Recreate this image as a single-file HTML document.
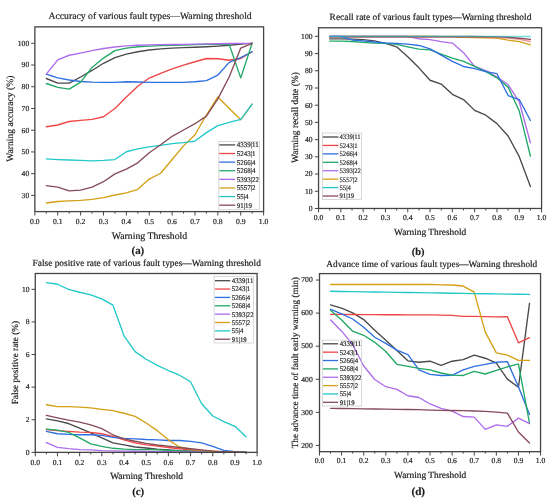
<!DOCTYPE html>
<html><head><meta charset="utf-8"><style>
html,body{margin:0;padding:0;background:#fff;}
svg{display:block;}
text{font-family:"Liberation Serif",serif;fill:#1a1a1a;stroke:#1a1a1a;stroke-width:0.18px;text-rendering:geometricPrecision;}
text.lg{stroke-width:0.16px;}
</style></head><body>
<svg width="550" height="501" viewBox="0 0 550 501">
<defs><filter id="bl" x="0" y="0" width="100%" height="100%"><feGaussianBlur stdDeviation="0.35"/></filter></defs>
<rect width="550" height="501" fill="#fff"/>
<g filter="url(#bl)">
<text x="48.5" y="19.2" font-size="9.71">Accuracy of various fault types—Warning threshold</text>
<clipPath id="clipa"><rect x="34.87" y="26.87" width="228.73" height="184.73"/></clipPath>
<g clip-path="url(#clipa)" fill="none" stroke-width="1.35" stroke-linejoin="round" stroke-linecap="round">
<polyline stroke="#4a4a4a" points="46.31,78.5 57.74,83.06 69.18,83.06 80.62,76.98 92.05,70.46 103.49,63.29 114.93,57.64 126.36,54.16 137.8,51.77 149.24,50.04 160.67,48.95 172.11,48.08 183.54,47.65 194.98,47.21 206.42,46.78 217.85,46.12 229.29,45.26 240.73,44.17 252.16,43.3"/>
<polyline stroke="#f04545" points="46.31,126.74 57.74,125 69.18,121.52 80.62,120.44 92.05,119.35 103.49,116.74 114.93,108.49 126.36,96.97 137.8,86.32 149.24,78.07 160.67,73.29 172.11,68.94 183.54,65.03 194.98,61.77 206.42,58.51 217.85,58.73 229.29,60.25 240.73,58.51 252.16,51.77"/>
<polyline stroke="#2f6fe0" points="46.31,74.15 57.74,77.85 69.18,80.02 80.62,81.54 92.05,82.19 103.49,82.41 114.93,82.41 126.36,81.76 137.8,81.98 149.24,82.41 160.67,82.41 172.11,82.41 183.54,82.41 194.98,81.76 206.42,80.67 217.85,75.02 229.29,62.42 240.73,57.64 252.16,51.77"/>
<polyline stroke="#22a865" points="46.31,83.5 57.74,87.41 69.18,89.15 80.62,82.19 92.05,67.42 103.49,58.08 114.93,50.69 126.36,48.08 137.8,46.78 149.24,46.12 160.67,45.69 172.11,45.26 183.54,45.04 194.98,44.6 206.42,44.39 217.85,44.39 229.29,44.6 240.73,77.85 252.16,43.3"/>
<polyline stroke="#ae6cec" points="46.31,74.15 57.74,59.81 69.18,55.25 80.62,53.08 92.05,50.69 103.49,48.51 114.93,46.99 126.36,45.91 137.8,45.26 149.24,44.82 160.67,44.6 172.11,44.5 183.54,44.39 194.98,44.17 206.42,43.95 217.85,43.73 229.29,43.52 240.73,43.3 252.16,43.3"/>
<polyline stroke="#d4a017" points="46.31,203.01 57.74,201.48 69.18,200.83 80.62,200.4 92.05,199.31 103.49,197.57 114.93,194.97 126.36,192.79 137.8,189.32 149.24,179.1 160.67,173.24 172.11,159.55 183.54,145.86 194.98,134.78 206.42,115 217.85,96.97 229.29,108.49 240.73,119.78 252.16,104.14"/>
<polyline stroke="#22c8c8" points="46.31,158.9 57.74,159.55 69.18,159.98 80.62,160.42 92.05,160.85 103.49,160.42 114.93,159.55 126.36,151.73 137.8,148.9 149.24,146.95 160.67,145.42 172.11,143.69 183.54,142.6 194.98,141.08 206.42,132.6 217.85,125.65 229.29,122.39 240.73,119.35 252.16,104.14"/>
<polyline stroke="#874b58" points="46.31,185.62 57.74,187.14 69.18,190.84 80.62,190.19 92.05,187.14 103.49,181.71 114.93,173.89 126.36,169.11 137.8,162.81 149.24,152.81 160.67,144.77 172.11,136.3 183.54,130 194.98,123.7 206.42,116.09 217.85,98.93 229.29,76.76 240.73,48.08 252.16,43.3"/>
</g>
<rect x="218.8" y="141.4" width="40.6" height="67.9" fill="none" stroke="#c8c8c8" stroke-width="0.7"/>
<line x1="219.3" y1="144.9" x2="235.2" y2="144.9" stroke="#4a4a4a" stroke-width="1.3"/>
<text transform="translate(236.8,147.3) scale(0.97,1)" font-size="7.11" class="lg">4339|11</text>
<line x1="219.3" y1="153.51" x2="235.2" y2="153.51" stroke="#f04545" stroke-width="1.3"/>
<text transform="translate(236.8,155.91) scale(0.97,1)" font-size="7.11" class="lg">5243|1</text>
<line x1="219.3" y1="162.12" x2="235.2" y2="162.12" stroke="#2f6fe0" stroke-width="1.3"/>
<text transform="translate(236.8,164.52) scale(0.97,1)" font-size="7.11" class="lg">5266|4</text>
<line x1="219.3" y1="170.73" x2="235.2" y2="170.73" stroke="#22a865" stroke-width="1.3"/>
<text transform="translate(236.8,173.13) scale(0.97,1)" font-size="7.11" class="lg">5268|4</text>
<line x1="219.3" y1="179.34" x2="235.2" y2="179.34" stroke="#ae6cec" stroke-width="1.3"/>
<text transform="translate(236.8,181.74) scale(0.97,1)" font-size="7.11" class="lg">5393|22</text>
<line x1="219.3" y1="187.95" x2="235.2" y2="187.95" stroke="#d4a017" stroke-width="1.3"/>
<text transform="translate(236.8,190.35) scale(0.97,1)" font-size="7.11" class="lg">5557|2</text>
<line x1="219.3" y1="196.56" x2="235.2" y2="196.56" stroke="#22c8c8" stroke-width="1.3"/>
<text transform="translate(236.8,198.96) scale(0.97,1)" font-size="7.11" class="lg">55|4</text>
<line x1="219.3" y1="205.17" x2="235.2" y2="205.17" stroke="#874b58" stroke-width="1.3"/>
<text transform="translate(236.8,207.57) scale(0.97,1)" font-size="7.11" class="lg">91|19</text>
<rect x="34.87" y="26.87" width="228.73" height="184.73" fill="none" stroke="#444444" stroke-width="1.3"/>
<line x1="31.17" y1="195.4" x2="34.87" y2="195.4" stroke="#444444" stroke-width="1"/>
<text x="29.2" y="197.7" font-size="7.6" text-anchor="end">30</text>
<line x1="31.17" y1="173.67" x2="34.87" y2="173.67" stroke="#444444" stroke-width="1"/>
<text x="29.2" y="175.97" font-size="7.6" text-anchor="end">40</text>
<line x1="31.17" y1="151.94" x2="34.87" y2="151.94" stroke="#444444" stroke-width="1"/>
<text x="29.2" y="154.24" font-size="7.6" text-anchor="end">50</text>
<line x1="31.17" y1="130.21" x2="34.87" y2="130.21" stroke="#444444" stroke-width="1"/>
<text x="29.2" y="132.51" font-size="7.6" text-anchor="end">60</text>
<line x1="31.17" y1="108.49" x2="34.87" y2="108.49" stroke="#444444" stroke-width="1"/>
<text x="29.2" y="110.79" font-size="7.6" text-anchor="end">70</text>
<line x1="31.17" y1="86.76" x2="34.87" y2="86.76" stroke="#444444" stroke-width="1"/>
<text x="29.2" y="89.06" font-size="7.6" text-anchor="end">80</text>
<line x1="31.17" y1="65.03" x2="34.87" y2="65.03" stroke="#444444" stroke-width="1"/>
<text x="29.2" y="67.33" font-size="7.6" text-anchor="end">90</text>
<line x1="31.17" y1="43.3" x2="34.87" y2="43.3" stroke="#444444" stroke-width="1"/>
<text x="29.2" y="45.6" font-size="7.6" text-anchor="end">100</text>
<line x1="34.87" y1="211.6" x2="34.87" y2="215.5" stroke="#444444" stroke-width="1"/>
<text x="34.87" y="224" font-size="7.6" text-anchor="middle">0.0</text>
<line x1="46.31" y1="211.6" x2="46.31" y2="213.6" stroke="#444444" stroke-width="1"/>
<line x1="57.74" y1="211.6" x2="57.74" y2="215.5" stroke="#444444" stroke-width="1"/>
<text x="57.74" y="224" font-size="7.6" text-anchor="middle">0.1</text>
<line x1="69.18" y1="211.6" x2="69.18" y2="213.6" stroke="#444444" stroke-width="1"/>
<line x1="80.62" y1="211.6" x2="80.62" y2="215.5" stroke="#444444" stroke-width="1"/>
<text x="80.62" y="224" font-size="7.6" text-anchor="middle">0.2</text>
<line x1="92.05" y1="211.6" x2="92.05" y2="213.6" stroke="#444444" stroke-width="1"/>
<line x1="103.49" y1="211.6" x2="103.49" y2="215.5" stroke="#444444" stroke-width="1"/>
<text x="103.49" y="224" font-size="7.6" text-anchor="middle">0.3</text>
<line x1="114.93" y1="211.6" x2="114.93" y2="213.6" stroke="#444444" stroke-width="1"/>
<line x1="126.36" y1="211.6" x2="126.36" y2="215.5" stroke="#444444" stroke-width="1"/>
<text x="126.36" y="224" font-size="7.6" text-anchor="middle">0.4</text>
<line x1="137.8" y1="211.6" x2="137.8" y2="213.6" stroke="#444444" stroke-width="1"/>
<line x1="149.24" y1="211.6" x2="149.24" y2="215.5" stroke="#444444" stroke-width="1"/>
<text x="149.24" y="224" font-size="7.6" text-anchor="middle">0.5</text>
<line x1="160.67" y1="211.6" x2="160.67" y2="213.6" stroke="#444444" stroke-width="1"/>
<line x1="172.11" y1="211.6" x2="172.11" y2="215.5" stroke="#444444" stroke-width="1"/>
<text x="172.11" y="224" font-size="7.6" text-anchor="middle">0.6</text>
<line x1="183.54" y1="211.6" x2="183.54" y2="213.6" stroke="#444444" stroke-width="1"/>
<line x1="194.98" y1="211.6" x2="194.98" y2="215.5" stroke="#444444" stroke-width="1"/>
<text x="194.98" y="224" font-size="7.6" text-anchor="middle">0.7</text>
<line x1="206.42" y1="211.6" x2="206.42" y2="213.6" stroke="#444444" stroke-width="1"/>
<line x1="217.85" y1="211.6" x2="217.85" y2="215.5" stroke="#444444" stroke-width="1"/>
<text x="217.85" y="224" font-size="7.6" text-anchor="middle">0.8</text>
<line x1="229.29" y1="211.6" x2="229.29" y2="213.6" stroke="#444444" stroke-width="1"/>
<line x1="240.73" y1="211.6" x2="240.73" y2="215.5" stroke="#444444" stroke-width="1"/>
<text x="240.73" y="224" font-size="7.6" text-anchor="middle">0.9</text>
<line x1="252.16" y1="211.6" x2="252.16" y2="213.6" stroke="#444444" stroke-width="1"/>
<line x1="263.6" y1="211.6" x2="263.6" y2="215.5" stroke="#444444" stroke-width="1"/>
<text x="263.6" y="224" font-size="7.6" text-anchor="middle">1.0</text>
<text x="111.7" y="238.9" font-size="9.8">Warning Threshold</text>
<text x="131.5" y="254.2" font-size="10.9" font-weight="bold">(a)</text>
<text transform="translate(12.5,118.7) rotate(-90)" text-anchor="middle" font-size="9.6">Warning accuracy (%)</text>
<text x="329.6" y="20" font-size="9.43">Recall rate of various fault types—Warning threshold</text>
<clipPath id="clipb"><rect x="318.55" y="27.75" width="223.02" height="180.72"/></clipPath>
<g clip-path="url(#clipb)" fill="none" stroke-width="1.35" stroke-linejoin="round" stroke-linecap="round">
<polyline stroke="#d4a017" points="329.7,36.52 340.85,36.52 352,36.52 363.15,36.52 374.31,36.52 385.46,36.52 396.61,36.52 407.76,36.52 418.91,36.52 430.06,36.52 441.21,36.69 452.36,36.87 463.51,37.21 474.66,37.55 485.82,37.73 496.97,38.07 508.12,40.14 519.27,41.69 530.42,44.78"/>
<polyline stroke="#ae6cec" points="329.7,36.52 340.85,36.52 352,36.52 363.15,36.52 374.31,36.52 385.46,36.52 396.61,36.52 407.76,36.52 418.91,38.76 430.06,39.62 441.21,41.69 452.36,43.06 463.51,52.7 474.66,66.47 485.82,70.6 496.97,77.14 508.12,84.54 519.27,101.76 530.42,142.72"/>
<polyline stroke="#f04545" stroke-opacity="0.55" points="329.7,37.38 340.85,37.38 352,37.38 363.15,37.38 374.31,37.38 385.46,37.38 396.61,37.38 407.76,37.38 418.91,37.38 430.06,37.38 441.21,37.38 452.36,37.38 463.51,37.38 474.66,37.38 485.82,37.38 496.97,37.55 508.12,38.07 519.27,39.45 530.42,41.51"/>
<polyline stroke="#874b58" points="329.7,36.52 340.85,36.52 352,36.52 363.15,36.52 374.31,36.52 385.46,36.52 396.61,36.52 407.76,36.52 418.91,36.52 430.06,36.52 441.21,36.52 452.36,36.52 463.51,36.52 474.66,36.52 485.82,36.69 496.97,36.69 508.12,37.21 519.27,38.24 530.42,39.45"/>
<polyline stroke="#4a4a4a" points="329.7,38.93 340.85,38.93 352,39.1 363.15,39.62 374.31,40.83 385.46,43.41 396.61,46.85 407.76,56.66 418.91,67.85 430.06,80.24 441.21,84.03 452.36,94.35 463.51,99.52 474.66,110.36 485.82,115.18 496.97,123.61 508.12,136.01 519.27,156.66 530.42,186.61"/>
<polyline stroke="#22a865" points="329.7,41.17 340.85,41.17 352,41.51 363.15,42.37 374.31,43.06 385.46,43.41 396.61,44.44 407.76,46.85 418.91,49.09 430.06,49.95 441.21,54.08 452.36,58.21 463.51,61.31 474.66,66.47 485.82,71.63 496.97,77.83 508.12,87.13 519.27,111.05 530.42,155.97"/>
<polyline stroke="#2f6fe0" points="329.7,36.44 340.85,36.44 352,39.96 363.15,40.83 374.31,42.03 385.46,42.89 396.61,43.41 407.76,44.1 418.91,45.47 430.06,48.91 441.21,55.11 452.36,61.31 463.51,66.47 474.66,68.54 485.82,71.63 496.97,73.7 508.12,95.56 519.27,99.52 530.42,120.52"/>
<polyline stroke="#22c8c8" stroke-opacity="0.6" points="329.7,36.52 340.85,36.52 352,36.52 363.15,36.52 374.31,36.52 385.46,36.52 396.61,36.52 407.76,36.52 418.91,36.52 430.06,36.52 441.21,36.52 452.36,36.52 463.51,36.52 474.66,36.52 485.82,36.52 496.97,36.52 508.12,36.52 519.27,36.52 530.42,36.52"/>
</g>
<rect x="322.5" y="133" width="38.9" height="66.6" fill="none" stroke="#c8c8c8" stroke-width="0.7"/>
<line x1="322.8" y1="137" x2="338.4" y2="137" stroke="#4a4a4a" stroke-width="1.3"/>
<text transform="translate(339.5,139.4) scale(0.97,1)" font-size="6.9" class="lg">4339|11</text>
<line x1="322.8" y1="145.43" x2="338.4" y2="145.43" stroke="#f04545" stroke-width="1.3"/>
<text transform="translate(339.5,147.83) scale(0.97,1)" font-size="6.9" class="lg">5243|1</text>
<line x1="322.8" y1="153.86" x2="338.4" y2="153.86" stroke="#2f6fe0" stroke-width="1.3"/>
<text transform="translate(339.5,156.26) scale(0.97,1)" font-size="6.9" class="lg">5266|4</text>
<line x1="322.8" y1="162.29" x2="338.4" y2="162.29" stroke="#22a865" stroke-width="1.3"/>
<text transform="translate(339.5,164.69) scale(0.97,1)" font-size="6.9" class="lg">5268|4</text>
<line x1="322.8" y1="170.72" x2="338.4" y2="170.72" stroke="#ae6cec" stroke-width="1.3"/>
<text transform="translate(339.5,173.12) scale(0.97,1)" font-size="6.9" class="lg">5393|22</text>
<line x1="322.8" y1="179.15" x2="338.4" y2="179.15" stroke="#d4a017" stroke-width="1.3"/>
<text transform="translate(339.5,181.55) scale(0.97,1)" font-size="6.9" class="lg">5557|2</text>
<line x1="322.8" y1="187.58" x2="338.4" y2="187.58" stroke="#22c8c8" stroke-width="1.3"/>
<text transform="translate(339.5,189.98) scale(0.97,1)" font-size="6.9" class="lg">55|4</text>
<line x1="322.8" y1="196.01" x2="338.4" y2="196.01" stroke="#874b58" stroke-width="1.3"/>
<text transform="translate(339.5,198.41) scale(0.97,1)" font-size="6.9" class="lg">91|19</text>
<rect x="318.55" y="27.75" width="223.02" height="180.72" fill="none" stroke="#444444" stroke-width="1.3"/>
<line x1="314.85" y1="208.47" x2="318.55" y2="208.47" stroke="#444444" stroke-width="1"/>
<text x="312.5" y="210.77" font-size="7.6" text-anchor="end">0</text>
<line x1="314.85" y1="191.26" x2="318.55" y2="191.26" stroke="#444444" stroke-width="1"/>
<text x="312.5" y="193.56" font-size="7.6" text-anchor="end">10</text>
<line x1="314.85" y1="174.05" x2="318.55" y2="174.05" stroke="#444444" stroke-width="1"/>
<text x="312.5" y="176.35" font-size="7.6" text-anchor="end">20</text>
<line x1="314.85" y1="156.83" x2="318.55" y2="156.83" stroke="#444444" stroke-width="1"/>
<text x="312.5" y="159.13" font-size="7.6" text-anchor="end">30</text>
<line x1="314.85" y1="139.62" x2="318.55" y2="139.62" stroke="#444444" stroke-width="1"/>
<text x="312.5" y="141.92" font-size="7.6" text-anchor="end">40</text>
<line x1="314.85" y1="122.41" x2="318.55" y2="122.41" stroke="#444444" stroke-width="1"/>
<text x="312.5" y="124.71" font-size="7.6" text-anchor="end">50</text>
<line x1="314.85" y1="105.2" x2="318.55" y2="105.2" stroke="#444444" stroke-width="1"/>
<text x="312.5" y="107.5" font-size="7.6" text-anchor="end">60</text>
<line x1="314.85" y1="87.99" x2="318.55" y2="87.99" stroke="#444444" stroke-width="1"/>
<text x="312.5" y="90.29" font-size="7.6" text-anchor="end">70</text>
<line x1="314.85" y1="70.77" x2="318.55" y2="70.77" stroke="#444444" stroke-width="1"/>
<text x="312.5" y="73.07" font-size="7.6" text-anchor="end">80</text>
<line x1="314.85" y1="53.56" x2="318.55" y2="53.56" stroke="#444444" stroke-width="1"/>
<text x="312.5" y="55.86" font-size="7.6" text-anchor="end">90</text>
<line x1="314.85" y1="36.35" x2="318.55" y2="36.35" stroke="#444444" stroke-width="1"/>
<text x="312.5" y="38.65" font-size="7.6" text-anchor="end">100</text>
<line x1="318.55" y1="208.47" x2="318.55" y2="212.37" stroke="#444444" stroke-width="1"/>
<text x="318.55" y="220.2" font-size="7.6" text-anchor="middle">0.0</text>
<line x1="329.7" y1="208.47" x2="329.7" y2="210.47" stroke="#444444" stroke-width="1"/>
<line x1="340.85" y1="208.47" x2="340.85" y2="212.37" stroke="#444444" stroke-width="1"/>
<text x="340.85" y="220.2" font-size="7.6" text-anchor="middle">0.1</text>
<line x1="352" y1="208.47" x2="352" y2="210.47" stroke="#444444" stroke-width="1"/>
<line x1="363.15" y1="208.47" x2="363.15" y2="212.37" stroke="#444444" stroke-width="1"/>
<text x="363.15" y="220.2" font-size="7.6" text-anchor="middle">0.2</text>
<line x1="374.31" y1="208.47" x2="374.31" y2="210.47" stroke="#444444" stroke-width="1"/>
<line x1="385.46" y1="208.47" x2="385.46" y2="212.37" stroke="#444444" stroke-width="1"/>
<text x="385.46" y="220.2" font-size="7.6" text-anchor="middle">0.3</text>
<line x1="396.61" y1="208.47" x2="396.61" y2="210.47" stroke="#444444" stroke-width="1"/>
<line x1="407.76" y1="208.47" x2="407.76" y2="212.37" stroke="#444444" stroke-width="1"/>
<text x="407.76" y="220.2" font-size="7.6" text-anchor="middle">0.4</text>
<line x1="418.91" y1="208.47" x2="418.91" y2="210.47" stroke="#444444" stroke-width="1"/>
<line x1="430.06" y1="208.47" x2="430.06" y2="212.37" stroke="#444444" stroke-width="1"/>
<text x="430.06" y="220.2" font-size="7.6" text-anchor="middle">0.5</text>
<line x1="441.21" y1="208.47" x2="441.21" y2="210.47" stroke="#444444" stroke-width="1"/>
<line x1="452.36" y1="208.47" x2="452.36" y2="212.37" stroke="#444444" stroke-width="1"/>
<text x="452.36" y="220.2" font-size="7.6" text-anchor="middle">0.6</text>
<line x1="463.51" y1="208.47" x2="463.51" y2="210.47" stroke="#444444" stroke-width="1"/>
<line x1="474.66" y1="208.47" x2="474.66" y2="212.37" stroke="#444444" stroke-width="1"/>
<text x="474.66" y="220.2" font-size="7.6" text-anchor="middle">0.7</text>
<line x1="485.82" y1="208.47" x2="485.82" y2="210.47" stroke="#444444" stroke-width="1"/>
<line x1="496.97" y1="208.47" x2="496.97" y2="212.37" stroke="#444444" stroke-width="1"/>
<text x="496.97" y="220.2" font-size="7.6" text-anchor="middle">0.8</text>
<line x1="508.12" y1="208.47" x2="508.12" y2="210.47" stroke="#444444" stroke-width="1"/>
<line x1="519.27" y1="208.47" x2="519.27" y2="212.37" stroke="#444444" stroke-width="1"/>
<text x="519.27" y="220.2" font-size="7.6" text-anchor="middle">0.9</text>
<line x1="530.42" y1="208.47" x2="530.42" y2="210.47" stroke="#444444" stroke-width="1"/>
<line x1="541.57" y1="208.47" x2="541.57" y2="212.37" stroke="#444444" stroke-width="1"/>
<text x="541.57" y="220.2" font-size="7.6" text-anchor="middle">1.0</text>
<text x="394.1" y="235" font-size="9.37">Warning Threshold</text>
<text x="411.8" y="254.6" font-size="10.4" font-weight="bold">(b)</text>
<text transform="translate(297.6,117.5) rotate(-90)" text-anchor="middle" font-size="9.5">Warning recall date (%)</text>
<text x="32.6" y="265.8" font-size="9.37">False positive rate of various fault types—Warning threshold</text>
<clipPath id="clipc"><rect x="35.28" y="273.5" width="221.82" height="178.87"/></clipPath>
<g clip-path="url(#clipc)" fill="none" stroke-width="1.35" stroke-linejoin="round" stroke-linecap="round">
<polyline stroke="#4a4a4a" points="46.37,418.94 57.46,420.9 68.55,423.51 79.64,428.24 90.74,432.8 101.83,437.86 112.92,442.91 124.01,444.87 135.1,446.99 146.19,447.97 157.28,449.11 168.37,449.92 179.46,450.74 190.55,451.23 201.65,451.55 212.74,451.88 223.83,452.04 234.92,452.21 246.01,452.37"/>
<polyline stroke="#f04545" points="46.37,429.7 57.46,430.68 68.55,431.33 79.64,432.15 90.74,432.31 101.83,433.78 112.92,436.39 124.01,439.81 135.1,442.91 146.19,444.87 157.28,446.17 168.37,447.48 179.46,448.78 190.55,449.76 201.65,450.74 212.74,451.39 223.83,452.04 234.92,452.21 246.01,452.37"/>
<polyline stroke="#2f6fe0" points="46.37,431.33 57.46,433.78 68.55,434.43 79.64,434.76 90.74,434.76 101.83,435.41 112.92,437.37 124.01,438.35 135.1,438.84 146.19,439.49 157.28,439.81 168.37,440.47 179.46,440.47 190.55,441.44 201.65,442.91 212.74,446.34 223.83,450.41 234.92,451.55 246.01,452.04"/>
<polyline stroke="#22a865" points="46.37,429.05 57.46,430.19 68.55,432.31 79.64,437.86 90.74,443.89 101.83,446.34 112.92,448.29 124.01,449.11 135.1,449.6 146.19,449.6 157.28,449.92 168.37,450.41 179.46,450.74 190.55,451.23 201.65,451.55 212.74,451.88 223.83,452.04 234.92,452.21 246.01,452.37"/>
<polyline stroke="#ae6cec" points="46.37,442.59 57.46,447.31 68.55,448.62 79.64,449.6 90.74,449.92 101.83,450.58 112.92,450.9 124.01,451.07 135.1,451.23 146.19,451.39 157.28,451.55 168.37,451.72 179.46,451.88 190.55,451.88 201.65,452.04 212.74,452.21 223.83,452.21 234.92,452.37 246.01,452.37"/>
<polyline stroke="#d4a017" points="46.37,404.75 57.46,406.55 68.55,406.55 79.64,407.2 90.74,407.85 101.83,409.32 112.92,410.62 124.01,413.23 135.1,416.33 146.19,423.02 157.28,430.68 168.37,439.81 179.46,446.99 190.55,449.11 201.65,450.41 212.74,451.23 223.83,451.88 234.92,452.21 246.01,452.37"/>
<polyline stroke="#22c8c8" points="46.37,282.61 57.46,284.24 68.55,289.3 79.64,292.24 90.74,294.84 101.83,298.92 112.92,305.12 124.01,335.77 135.1,351.59 146.19,359.26 157.28,365.29 168.37,370.51 179.46,375.24 190.55,381.76 201.65,403.78 212.74,416.01 223.83,421.55 234.92,426.28 246.01,436.72"/>
<polyline stroke="#874b58" points="46.37,415.35 57.46,417.8 68.55,420.08 79.64,422.04 90.74,424.97 101.83,428.56 112.92,434.76 124.01,438.84 135.1,441.28 146.19,443.4 157.28,445.03 168.37,446.17 179.46,447.48 190.55,448.78 201.65,449.92 212.74,451.07 223.83,451.72 234.92,452.04 246.01,452.37"/>
</g>
<rect x="214.1" y="276.4" width="39.2" height="66.6" fill="none" stroke="#c8c8c8" stroke-width="0.7"/>
<line x1="214.9" y1="280.7" x2="230.2" y2="280.7" stroke="#4a4a4a" stroke-width="1.3"/>
<text transform="translate(231.8,283.1) scale(0.97,1)" font-size="7" class="lg">4339|11</text>
<line x1="214.9" y1="289.06" x2="230.2" y2="289.06" stroke="#f04545" stroke-width="1.3"/>
<text transform="translate(231.8,291.46) scale(0.97,1)" font-size="7" class="lg">5243|1</text>
<line x1="214.9" y1="297.42" x2="230.2" y2="297.42" stroke="#2f6fe0" stroke-width="1.3"/>
<text transform="translate(231.8,299.82) scale(0.97,1)" font-size="7" class="lg">5266|4</text>
<line x1="214.9" y1="305.78" x2="230.2" y2="305.78" stroke="#22a865" stroke-width="1.3"/>
<text transform="translate(231.8,308.18) scale(0.97,1)" font-size="7" class="lg">5268|4</text>
<line x1="214.9" y1="314.14" x2="230.2" y2="314.14" stroke="#ae6cec" stroke-width="1.3"/>
<text transform="translate(231.8,316.54) scale(0.97,1)" font-size="7" class="lg">5393|22</text>
<line x1="214.9" y1="322.5" x2="230.2" y2="322.5" stroke="#d4a017" stroke-width="1.3"/>
<text transform="translate(231.8,324.9) scale(0.97,1)" font-size="7" class="lg">5557|2</text>
<line x1="214.9" y1="330.86" x2="230.2" y2="330.86" stroke="#22c8c8" stroke-width="1.3"/>
<text transform="translate(231.8,333.26) scale(0.97,1)" font-size="7" class="lg">55|4</text>
<line x1="214.9" y1="339.22" x2="230.2" y2="339.22" stroke="#874b58" stroke-width="1.3"/>
<text transform="translate(231.8,341.62) scale(0.97,1)" font-size="7" class="lg">91|19</text>
<rect x="35.28" y="273.5" width="221.82" height="178.87" fill="none" stroke="#444444" stroke-width="1.3"/>
<line x1="31.58" y1="452.37" x2="35.28" y2="452.37" stroke="#444444" stroke-width="1"/>
<text x="29.5" y="454.67" font-size="7.6" text-anchor="end">0</text>
<line x1="31.58" y1="419.76" x2="35.28" y2="419.76" stroke="#444444" stroke-width="1"/>
<text x="29.5" y="422.06" font-size="7.6" text-anchor="end">2</text>
<line x1="31.58" y1="387.14" x2="35.28" y2="387.14" stroke="#444444" stroke-width="1"/>
<text x="29.5" y="389.44" font-size="7.6" text-anchor="end">4</text>
<line x1="31.58" y1="354.53" x2="35.28" y2="354.53" stroke="#444444" stroke-width="1"/>
<text x="29.5" y="356.83" font-size="7.6" text-anchor="end">6</text>
<line x1="31.58" y1="321.91" x2="35.28" y2="321.91" stroke="#444444" stroke-width="1"/>
<text x="29.5" y="324.21" font-size="7.6" text-anchor="end">8</text>
<line x1="31.58" y1="289.3" x2="35.28" y2="289.3" stroke="#444444" stroke-width="1"/>
<text x="29.5" y="291.6" font-size="7.6" text-anchor="end">10</text>
<line x1="35.28" y1="452.37" x2="35.28" y2="456.27" stroke="#444444" stroke-width="1"/>
<text x="35.28" y="464.9" font-size="7.6" text-anchor="middle">0.0</text>
<line x1="46.37" y1="452.37" x2="46.37" y2="454.37" stroke="#444444" stroke-width="1"/>
<line x1="57.46" y1="452.37" x2="57.46" y2="456.27" stroke="#444444" stroke-width="1"/>
<text x="57.46" y="464.9" font-size="7.6" text-anchor="middle">0.1</text>
<line x1="68.55" y1="452.37" x2="68.55" y2="454.37" stroke="#444444" stroke-width="1"/>
<line x1="79.64" y1="452.37" x2="79.64" y2="456.27" stroke="#444444" stroke-width="1"/>
<text x="79.64" y="464.9" font-size="7.6" text-anchor="middle">0.2</text>
<line x1="90.74" y1="452.37" x2="90.74" y2="454.37" stroke="#444444" stroke-width="1"/>
<line x1="101.83" y1="452.37" x2="101.83" y2="456.27" stroke="#444444" stroke-width="1"/>
<text x="101.83" y="464.9" font-size="7.6" text-anchor="middle">0.3</text>
<line x1="112.92" y1="452.37" x2="112.92" y2="454.37" stroke="#444444" stroke-width="1"/>
<line x1="124.01" y1="452.37" x2="124.01" y2="456.27" stroke="#444444" stroke-width="1"/>
<text x="124.01" y="464.9" font-size="7.6" text-anchor="middle">0.4</text>
<line x1="135.1" y1="452.37" x2="135.1" y2="454.37" stroke="#444444" stroke-width="1"/>
<line x1="146.19" y1="452.37" x2="146.19" y2="456.27" stroke="#444444" stroke-width="1"/>
<text x="146.19" y="464.9" font-size="7.6" text-anchor="middle">0.5</text>
<line x1="157.28" y1="452.37" x2="157.28" y2="454.37" stroke="#444444" stroke-width="1"/>
<line x1="168.37" y1="452.37" x2="168.37" y2="456.27" stroke="#444444" stroke-width="1"/>
<text x="168.37" y="464.9" font-size="7.6" text-anchor="middle">0.6</text>
<line x1="179.46" y1="452.37" x2="179.46" y2="454.37" stroke="#444444" stroke-width="1"/>
<line x1="190.55" y1="452.37" x2="190.55" y2="456.27" stroke="#444444" stroke-width="1"/>
<text x="190.55" y="464.9" font-size="7.6" text-anchor="middle">0.7</text>
<line x1="201.65" y1="452.37" x2="201.65" y2="454.37" stroke="#444444" stroke-width="1"/>
<line x1="212.74" y1="452.37" x2="212.74" y2="456.27" stroke="#444444" stroke-width="1"/>
<text x="212.74" y="464.9" font-size="7.6" text-anchor="middle">0.8</text>
<line x1="223.83" y1="452.37" x2="223.83" y2="454.37" stroke="#444444" stroke-width="1"/>
<line x1="234.92" y1="452.37" x2="234.92" y2="456.27" stroke="#444444" stroke-width="1"/>
<text x="234.92" y="464.9" font-size="7.6" text-anchor="middle">0.9</text>
<line x1="246.01" y1="452.37" x2="246.01" y2="454.37" stroke="#444444" stroke-width="1"/>
<line x1="257.1" y1="452.37" x2="257.1" y2="456.27" stroke="#444444" stroke-width="1"/>
<text x="257.1" y="464.9" font-size="7.6" text-anchor="middle">1.0</text>
<text x="110.2" y="479.1" font-size="9.46">Warning Threshold</text>
<text x="132.2" y="494.5" font-size="10.8" font-weight="bold">(c)</text>
<text transform="translate(18.4,362.6) rotate(-90)" text-anchor="middle" font-size="9.24">False positive rate (%)</text>
<text x="326.3" y="266.8" font-size="9.3">Advance time of various fault types—Warning threshold</text>
<clipPath id="clipd"><rect x="319.5" y="273.6" width="221.05" height="178.07"/></clipPath>
<g clip-path="url(#clipd)" fill="none" stroke-width="1.35" stroke-linejoin="round" stroke-linecap="round">
<polyline stroke="#4a4a4a" points="330.55,304.82 341.61,308.19 352.66,312.89 363.71,319.6 374.76,330.15 385.81,340.34 396.87,350.56 407.92,360.84 418.97,362.23 430.02,361.24 441.08,365.3 452.13,361.24 463.18,359.65 474.23,355.15 485.29,358.23 496.34,363.22 507.39,379.09 518.44,387.3 529.5,303.3"/>
<polyline stroke="#f04545" points="330.55,314.31 341.61,314.44 352.66,314.54 363.71,314.61 374.76,314.67 385.81,314.74 396.87,314.77 407.92,314.81 418.97,314.84 430.02,314.87 441.08,315.1 452.13,315.3 463.18,316.43 474.23,316.43 485.29,316.59 496.34,316.89 507.39,316.66 518.44,342.78 529.5,337.66"/>
<polyline stroke="#2f6fe0" points="330.55,309.42 341.61,313.91 352.66,319.01 363.71,327.17 374.76,337.26 385.81,343.45 396.87,350.16 407.92,354.62 418.97,369.8 430.02,374.4 441.08,375.49 452.13,375.29 463.18,369.8 474.23,366.36 485.29,364.31 496.34,362.23 507.39,361.63 518.44,386.7 529.5,414.55"/>
<polyline stroke="#22a865" points="330.55,310.21 341.61,320 352.66,331.18 363.71,335.28 374.76,342.35 385.81,351.55 396.87,364.31 407.92,366.36 418.97,368.35 430.02,369.8 441.08,373.01 452.13,375.09 463.18,375.49 474.23,371.42 485.29,374 496.34,370.4 507.39,366.96 518.44,363.92 529.5,423.24"/>
<polyline stroke="#ae6cec" points="330.55,320 341.61,331.18 352.66,344.44 363.71,366.03 374.76,379.49 385.81,386.7 396.87,389.31 407.92,395.79 418.97,397.48 430.02,403.96 441.08,408.33 452.13,411.04 463.18,416.53 474.23,417.16 485.29,429.36 496.34,424.83 507.39,426.32 518.44,418.15 529.5,423.64"/>
<polyline stroke="#d4a017" points="330.55,284.45 341.61,284.45 352.66,284.45 363.71,284.45 374.76,284.45 385.81,284.45 396.87,284.45 407.92,284.45 418.97,284.45 430.02,284.45 441.08,284.85 452.13,285.01 463.18,286.04 474.23,292.12 485.29,332.17 496.34,352.94 507.39,355.15 518.44,360.34 529.5,360.34"/>
<polyline stroke="#22c8c8" points="330.55,291.29 341.61,291.47 352.66,291.64 363.71,291.82 374.76,291.99 385.81,292.17 396.87,292.34 407.92,292.51 418.97,292.69 430.02,292.86 441.08,293.04 452.13,293.22 463.18,293.39 474.23,293.56 485.29,293.74 496.34,293.91 507.39,294.08 518.44,294.26 529.5,294.44"/>
<polyline stroke="#874b58" points="330.55,408.36 341.61,408.53 352.66,408.69 363.71,408.86 374.76,409.02 385.81,409.19 396.87,409.35 407.92,409.52 418.97,409.68 430.02,410.08 441.08,410.35 452.13,410.51 463.18,410.68 474.23,411.04 485.29,411.34 496.34,412.07 507.39,413.06 518.44,432.01 529.5,443.02"/>
</g>
<rect x="322.5" y="340.1" width="39.2" height="65.9" fill="none" stroke="#c8c8c8" stroke-width="0.7"/>
<line x1="323" y1="343.8" x2="338.1" y2="343.8" stroke="#4a4a4a" stroke-width="1.3"/>
<text transform="translate(339.7,346.2) scale(0.97,1)" font-size="7" class="lg">4339|11</text>
<line x1="323" y1="352.16" x2="338.1" y2="352.16" stroke="#f04545" stroke-width="1.3"/>
<text transform="translate(339.7,354.56) scale(0.97,1)" font-size="7" class="lg">5243|1</text>
<line x1="323" y1="360.52" x2="338.1" y2="360.52" stroke="#2f6fe0" stroke-width="1.3"/>
<text transform="translate(339.7,362.92) scale(0.97,1)" font-size="7" class="lg">5266|4</text>
<line x1="323" y1="368.88" x2="338.1" y2="368.88" stroke="#22a865" stroke-width="1.3"/>
<text transform="translate(339.7,371.28) scale(0.97,1)" font-size="7" class="lg">5268|4</text>
<line x1="323" y1="377.24" x2="338.1" y2="377.24" stroke="#ae6cec" stroke-width="1.3"/>
<text transform="translate(339.7,379.64) scale(0.97,1)" font-size="7" class="lg">5393|22</text>
<line x1="323" y1="385.6" x2="338.1" y2="385.6" stroke="#d4a017" stroke-width="1.3"/>
<text transform="translate(339.7,388) scale(0.97,1)" font-size="7" class="lg">5557|2</text>
<line x1="323" y1="393.96" x2="338.1" y2="393.96" stroke="#22c8c8" stroke-width="1.3"/>
<text transform="translate(339.7,396.36) scale(0.97,1)" font-size="7" class="lg">55|4</text>
<line x1="323" y1="402.32" x2="338.1" y2="402.32" stroke="#874b58" stroke-width="1.3"/>
<text transform="translate(339.7,404.72) scale(0.97,1)" font-size="7" class="lg">91|19</text>
<rect x="319.5" y="273.6" width="221.05" height="178.07" fill="none" stroke="#444444" stroke-width="1.3"/>
<line x1="315.8" y1="445.4" x2="319.5" y2="445.4" stroke="#444444" stroke-width="1"/>
<text x="312.7" y="447.7" font-size="7.6" text-anchor="end">200</text>
<line x1="315.8" y1="412.33" x2="319.5" y2="412.33" stroke="#444444" stroke-width="1"/>
<text x="312.7" y="414.63" font-size="7.6" text-anchor="end">300</text>
<line x1="315.8" y1="379.26" x2="319.5" y2="379.26" stroke="#444444" stroke-width="1"/>
<text x="312.7" y="381.56" font-size="7.6" text-anchor="end">400</text>
<line x1="315.8" y1="346.19" x2="319.5" y2="346.19" stroke="#444444" stroke-width="1"/>
<text x="312.7" y="348.49" font-size="7.6" text-anchor="end">500</text>
<line x1="315.8" y1="313.12" x2="319.5" y2="313.12" stroke="#444444" stroke-width="1"/>
<text x="312.7" y="315.42" font-size="7.6" text-anchor="end">600</text>
<line x1="315.8" y1="280.05" x2="319.5" y2="280.05" stroke="#444444" stroke-width="1"/>
<text x="312.7" y="282.35" font-size="7.6" text-anchor="end">700</text>
<line x1="319.5" y1="451.67" x2="319.5" y2="455.57" stroke="#444444" stroke-width="1"/>
<text x="319.5" y="463.4" font-size="7.6" text-anchor="middle">0.0</text>
<line x1="330.55" y1="451.67" x2="330.55" y2="453.67" stroke="#444444" stroke-width="1"/>
<line x1="341.61" y1="451.67" x2="341.61" y2="455.57" stroke="#444444" stroke-width="1"/>
<text x="341.61" y="463.4" font-size="7.6" text-anchor="middle">0.1</text>
<line x1="352.66" y1="451.67" x2="352.66" y2="453.67" stroke="#444444" stroke-width="1"/>
<line x1="363.71" y1="451.67" x2="363.71" y2="455.57" stroke="#444444" stroke-width="1"/>
<text x="363.71" y="463.4" font-size="7.6" text-anchor="middle">0.2</text>
<line x1="374.76" y1="451.67" x2="374.76" y2="453.67" stroke="#444444" stroke-width="1"/>
<line x1="385.81" y1="451.67" x2="385.81" y2="455.57" stroke="#444444" stroke-width="1"/>
<text x="385.81" y="463.4" font-size="7.6" text-anchor="middle">0.3</text>
<line x1="396.87" y1="451.67" x2="396.87" y2="453.67" stroke="#444444" stroke-width="1"/>
<line x1="407.92" y1="451.67" x2="407.92" y2="455.57" stroke="#444444" stroke-width="1"/>
<text x="407.92" y="463.4" font-size="7.6" text-anchor="middle">0.4</text>
<line x1="418.97" y1="451.67" x2="418.97" y2="453.67" stroke="#444444" stroke-width="1"/>
<line x1="430.02" y1="451.67" x2="430.02" y2="455.57" stroke="#444444" stroke-width="1"/>
<text x="430.02" y="463.4" font-size="7.6" text-anchor="middle">0.5</text>
<line x1="441.08" y1="451.67" x2="441.08" y2="453.67" stroke="#444444" stroke-width="1"/>
<line x1="452.13" y1="451.67" x2="452.13" y2="455.57" stroke="#444444" stroke-width="1"/>
<text x="452.13" y="463.4" font-size="7.6" text-anchor="middle">0.6</text>
<line x1="463.18" y1="451.67" x2="463.18" y2="453.67" stroke="#444444" stroke-width="1"/>
<line x1="474.24" y1="451.67" x2="474.24" y2="455.57" stroke="#444444" stroke-width="1"/>
<text x="474.24" y="463.4" font-size="7.6" text-anchor="middle">0.7</text>
<line x1="485.29" y1="451.67" x2="485.29" y2="453.67" stroke="#444444" stroke-width="1"/>
<line x1="496.34" y1="451.67" x2="496.34" y2="455.57" stroke="#444444" stroke-width="1"/>
<text x="496.34" y="463.4" font-size="7.6" text-anchor="middle">0.8</text>
<line x1="507.39" y1="451.67" x2="507.39" y2="453.67" stroke="#444444" stroke-width="1"/>
<line x1="518.44" y1="451.67" x2="518.44" y2="455.57" stroke="#444444" stroke-width="1"/>
<text x="518.44" y="463.4" font-size="7.6" text-anchor="middle">0.9</text>
<line x1="529.5" y1="451.67" x2="529.5" y2="453.67" stroke="#444444" stroke-width="1"/>
<line x1="540.55" y1="451.67" x2="540.55" y2="455.57" stroke="#444444" stroke-width="1"/>
<text x="540.55" y="463.4" font-size="7.6" text-anchor="middle">1.0</text>
<text x="394.1" y="478.2" font-size="9.37">Warning Threshold</text>
<text x="411.5" y="494.5" font-size="11.1" font-weight="bold">(d)</text>
<text transform="translate(298.2,362.7) rotate(-90)" text-anchor="middle" font-size="9.25">The advance time of fault early warning (min)</text>
</g>
</svg>
</body></html>
